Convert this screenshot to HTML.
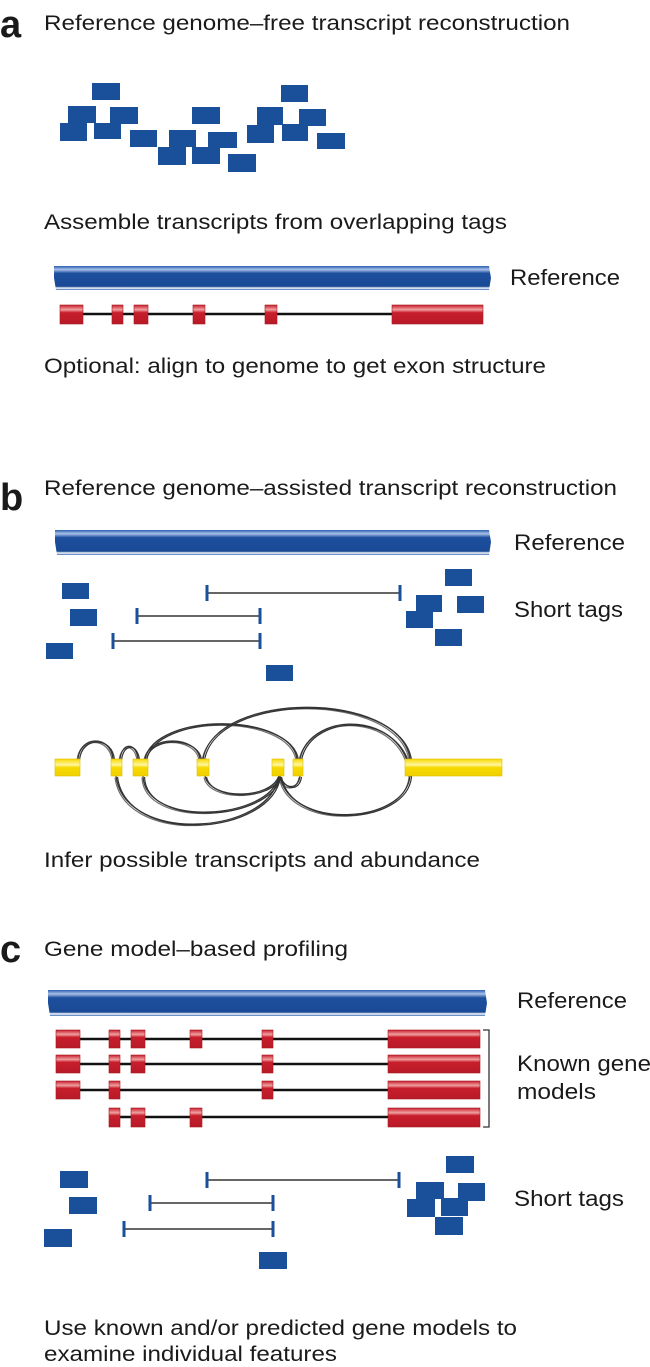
<!DOCTYPE html>
<html><head><meta charset="utf-8"><style>
html,body{margin:0;padding:0;background:#fff;}
svg{display:block}
text{font-family:"Liberation Sans",sans-serif;fill:#1a1a1a;}
</style></head><body>
<svg width="650" height="1367" viewBox="0 0 650 1367" xmlns="http://www.w3.org/2000/svg">
<defs>
<linearGradient id="blue" x1="0" y1="0" x2="0" y2="1">
<stop offset="0" stop-color="#2a5fb0"/><stop offset="0.15" stop-color="#a8c0e8"/><stop offset="0.3" stop-color="#1d4f9e"/><stop offset="0.85" stop-color="#1a4a96"/><stop offset="0.92" stop-color="#fff"/><stop offset="1" stop-color="#3a6ab4"/>
</linearGradient>
<linearGradient id="red" x1="0" y1="0" x2="0" y2="1">
<stop offset="0" stop-color="#c81e2c"/><stop offset="0.25" stop-color="#f0a0a0"/><stop offset="0.4" stop-color="#c81e2c"/><stop offset="1" stop-color="#b81a28"/>
</linearGradient>
<linearGradient id="yel" x1="0" y1="0" x2="0" y2="1">
<stop offset="0" stop-color="#f7d900"/><stop offset="0.35" stop-color="#fff6a0"/><stop offset="0.5" stop-color="#f7d900"/><stop offset="1" stop-color="#f0d000"/>
</linearGradient>
</defs>

<!-- Panel a -->
<text x="0" y="37" font-size="38" font-weight="bold">a</text>
<text x="44" y="30" font-size="21" textLength="526" lengthAdjust="spacingAndGlyphs">Reference genome–free transcript reconstruction</text>
<g fill="#1a4f9a">
<rect x="92" y="83" width="28" height="17"/><rect x="68" y="106" width="28" height="17"/><rect x="110" y="107" width="28" height="17"/>
<rect x="60" y="123" width="27" height="18"/><rect x="94" y="123" width="27" height="16"/><rect x="130" y="130" width="27" height="17"/>
<rect x="169" y="130" width="27" height="17"/><rect x="192" y="107" width="28" height="17"/><rect x="208" y="132" width="29" height="16"/>
<rect x="158" y="147" width="28" height="18"/><rect x="192" y="147" width="28" height="17"/><rect x="228" y="154" width="28" height="18"/>
<rect x="281" y="85" width="27" height="17"/><rect x="257" y="107" width="26" height="18"/><rect x="299" y="109" width="27" height="17"/>
<rect x="247" y="125" width="27" height="18"/><rect x="282" y="124" width="26" height="17"/><rect x="317" y="133" width="28" height="16"/>
</g>
<text x="44" y="229" font-size="21" textLength="463" lengthAdjust="spacingAndGlyphs">Assemble transcripts from overlapping tags</text>
<path d="M54 266 L489 266 L491 278 L489 290 L56 290 L54 278 Z" fill="url(#blue)"/>
<text x="510" y="285" font-size="22" textLength="110" lengthAdjust="spacingAndGlyphs">Reference</text>
<line x1="70" y1="314" x2="400" y2="314" stroke="#111" stroke-width="2.5"/>
<g fill="url(#red)" stroke="#a81822" stroke-width="0.6">
<rect x="60" y="305" width="23" height="19"/><rect x="112" y="305" width="11" height="19"/><rect x="134" y="305" width="14" height="19"/>
<rect x="193" y="305" width="12" height="19"/><rect x="265" y="305" width="12" height="19"/><rect x="392" y="305" width="91" height="19"/>
</g>
<text x="44" y="373" font-size="21" textLength="502" lengthAdjust="spacingAndGlyphs">Optional: align to genome to get exon structure</text>

<!-- Panel b -->
<text x="0" y="510" font-size="38" font-weight="bold">b</text>
<text x="44" y="495" font-size="21" textLength="573" lengthAdjust="spacingAndGlyphs">Reference genome–assisted transcript reconstruction</text>
<path d="M55 530 L489 530 L491 542 L489 555 L57 555 L55 542 Z" fill="url(#blue)"/>
<text x="514" y="550" font-size="22" textLength="111" lengthAdjust="spacingAndGlyphs">Reference</text>
<text x="514" y="617" font-size="22" textLength="109" lengthAdjust="spacingAndGlyphs">Short tags</text>
<g fill="#1a4f9a">
<rect x="62" y="583" width="27" height="16"/><rect x="70" y="609" width="27" height="17"/><rect x="46" y="643" width="27" height="16"/>
<rect x="266" y="665" width="27" height="16"/><rect x="445" y="569" width="27" height="17"/><rect x="416" y="595" width="26" height="17"/>
<rect x="457" y="596" width="27" height="17"/><rect x="406" y="611" width="27" height="17"/><rect x="435" y="629" width="27" height="17"/>
</g>
<g stroke="#333" stroke-width="1.5"><line x1="207" y1="593" x2="400" y2="593"/><line x1="137" y1="616" x2="260" y2="616"/><line x1="113" y1="641" x2="260" y2="641"/></g>
<g stroke="#1a4f9a" stroke-width="3">
<line x1="207" y1="585" x2="207" y2="601"/><line x1="400" y1="585" x2="400" y2="601"/>
<line x1="137" y1="608" x2="137" y2="624"/><line x1="260" y1="608" x2="260" y2="624"/>
<line x1="113" y1="633" x2="113" y2="649"/><line x1="260" y1="633" x2="260" y2="649"/>
</g>
<!-- arcs -->
<g fill="none" stroke="#333" stroke-width="1.2">
<g id="arcs">
<path d="M78 759 C80 735 111 735 113 759"/>
<path d="M120 759 C122 742 136 742 138 759"/>
<path d="M145 759 C148 735 197 735 200 759"/>
<path d="M145 759 C155 712 290 712 297 759"/>
<path d="M203 759 C215 690 400 690 410 759"/>
<path d="M300 759 C310 710 405 710 410 776"/>
<path d="M116 776 C125 845 270 835 279 776"/>
<path d="M143 776 C145 828 270 820 279 776"/>
<path d="M205 776 C210 800 270 800 279 776"/>
<path d="M280 776 C290 830 405 825 410 776"/>
<path d="M279 776 C285 790 298 790 300 776"/>
</g>
<use href="#arcs" transform="translate(1.5,1)"/>
<use href="#arcs" transform="translate(-1,1.5)" opacity="0.7"/>
</g>
<g fill="url(#yel)" stroke="#e0c000" stroke-width="0.6">
<rect x="55" y="759" width="25" height="17"/><rect x="111" y="759" width="11" height="17"/><rect x="133" y="759" width="15" height="17"/>
<rect x="197" y="759" width="12" height="17"/><rect x="272" y="759" width="12" height="17"/><rect x="293" y="759" width="10" height="17"/>
<rect x="405" y="759" width="97" height="17"/>
</g>
<text x="44" y="867" font-size="21" textLength="436" lengthAdjust="spacingAndGlyphs">Infer possible transcripts and abundance</text>

<!-- Panel c -->
<text x="0" y="962" font-size="38" font-weight="bold">c</text>
<text x="44" y="956" font-size="21" textLength="304" lengthAdjust="spacingAndGlyphs">Gene model–based profiling</text>
<path d="M48 990 L485 990 L487 1003 L485 1016 L50 1016 L48 1003 Z" fill="url(#blue)"/>
<text x="517" y="1008" font-size="22" textLength="110" lengthAdjust="spacingAndGlyphs">Reference</text>
<g stroke="#111" stroke-width="2.5">
<line x1="70" y1="1039" x2="400" y2="1039"/><line x1="70" y1="1064" x2="400" y2="1064"/>
<line x1="70" y1="1090" x2="400" y2="1090"/><line x1="115" y1="1117" x2="400" y2="1117"/>
</g>
<g fill="url(#red)" stroke="#a81822" stroke-width="0.6">
<rect x="56" y="1030" width="24" height="18"/><rect x="109" y="1030" width="11" height="18"/><rect x="131" y="1030" width="14" height="18"/><rect x="190" y="1030" width="12" height="18"/><rect x="262" y="1030" width="11" height="18"/><rect x="388" y="1030" width="92" height="18"/>
<rect x="56" y="1055" width="24" height="18"/><rect x="109" y="1055" width="11" height="18"/><rect x="131" y="1055" width="14" height="18"/><rect x="262" y="1055" width="11" height="18"/><rect x="388" y="1055" width="92" height="18"/>
<rect x="56" y="1081" width="24" height="18"/><rect x="109" y="1081" width="11" height="18"/><rect x="262" y="1081" width="11" height="18"/><rect x="388" y="1081" width="92" height="18"/>
<rect x="109" y="1108" width="11" height="19"/><rect x="131" y="1108" width="14" height="19"/><rect x="190" y="1108" width="12" height="19"/><rect x="388" y="1108" width="92" height="19"/>
</g>
<path d="M483 1030 L489 1030 L489 1127 L483 1127" fill="none" stroke="#333" stroke-width="1.3"/>
<text x="517" y="1071" font-size="22" textLength="134" lengthAdjust="spacingAndGlyphs">Known gene</text>
<text x="517" y="1099" font-size="22" textLength="79" lengthAdjust="spacingAndGlyphs">models</text>
<g fill="#1a4f9a">
<rect x="60" y="1171" width="28" height="17"/><rect x="69" y="1197" width="28" height="17"/><rect x="44" y="1229" width="28" height="18"/>
<rect x="259" y="1252" width="28" height="17"/><rect x="446" y="1156" width="28" height="17"/><rect x="416" y="1182" width="28" height="17"/>
<rect x="458" y="1183" width="27" height="18"/><rect x="407" y="1199" width="28" height="18"/><rect x="441" y="1198" width="27" height="18"/>
<rect x="435" y="1217" width="28" height="18"/>
</g>
<g stroke="#333" stroke-width="1.5"><line x1="207" y1="1180" x2="399" y2="1180"/><line x1="150" y1="1203" x2="273" y2="1203"/><line x1="124" y1="1229" x2="273" y2="1229"/></g>
<g stroke="#1a4f9a" stroke-width="3">
<line x1="207" y1="1172" x2="207" y2="1188"/><line x1="399" y1="1172" x2="399" y2="1188"/>
<line x1="150" y1="1195" x2="150" y2="1211"/><line x1="273" y1="1195" x2="273" y2="1211"/>
<line x1="124" y1="1221" x2="124" y2="1237"/><line x1="273" y1="1221" x2="273" y2="1237"/>
</g>
<text x="514" y="1206" font-size="22" textLength="110" lengthAdjust="spacingAndGlyphs">Short tags</text>
<text x="44" y="1335" font-size="21" textLength="473" lengthAdjust="spacingAndGlyphs">Use known and/or predicted gene models to</text>
<text x="44" y="1361" font-size="21" textLength="293" lengthAdjust="spacingAndGlyphs">examine individual features</text>
</svg>
</body></html>
